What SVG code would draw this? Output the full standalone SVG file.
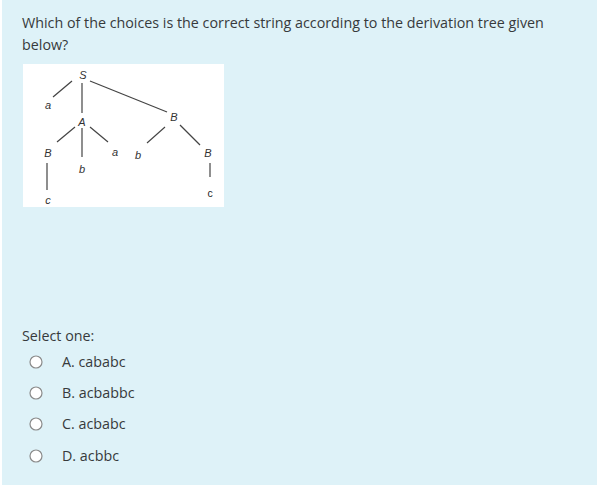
<svg xmlns="http://www.w3.org/2000/svg" width="597" height="485" viewBox="0 0 597 485">
<style>
.q{font-family:"Open Sans","Liberation Sans",sans-serif;font-size:14.3px;fill:#373a3c}
.t{font-family:"Liberation Sans",Arial,sans-serif;font-size:11px;font-style:italic;fill:#333;text-anchor:middle}
.tu{font-family:"Liberation Sans",Arial,sans-serif;font-size:10.5px;fill:#222;text-anchor:middle}
.e line{stroke:#444;stroke-width:1.2}
.r{fill:#fff;stroke:#8a8a8a;stroke-width:1.2}
</style>
<rect x="0" y="0" width="597" height="485" fill="#fff"/>
<rect x="2" y="0" width="595" height="485" fill="#def2f8"/>
<text class="q" x="22" y="28">Which of the choices is the correct string according to the derivation tree given</text>
<text class="q" x="22" y="50">below?</text>
<rect x="23" y="64" width="201" height="143" fill="#fff"/>
<g id="edges" class="e">
<line x1="72" y1="81" x2="53" y2="97"/>
<line x1="82" y1="83" x2="82" y2="113"/>
<line x1="90" y1="81" x2="167" y2="112"/>
<line x1="75" y1="127" x2="57" y2="142"/>
<line x1="82" y1="128" x2="82" y2="157"/>
<line x1="90" y1="127" x2="108" y2="142"/>
<line x1="165" y1="127" x2="147" y2="143"/>
<line x1="180" y1="125" x2="200" y2="145"/>
<line x1="47" y1="163" x2="47" y2="190"/>
<line x1="210" y1="163" x2="210" y2="177"/>
</g>
<g id="S"><text class="t" x="83" y="79">S</text></g>
<g id="a1"><text class="t" x="48" y="109">a</text></g>
<g id="A"><text class="t" x="82" y="126">A</text></g>
<g id="B1"><text class="t" x="174" y="121">B</text></g>
<g id="B2"><text class="t" x="48" y="157">B</text></g>
<g id="b1"><text class="t" x="82" y="173">b</text></g>
<g id="a2"><text class="t" x="115" y="156">a</text></g>
<g id="b2"><text class="t" x="138" y="159">b</text></g>
<g id="B3"><text class="t" x="208" y="157">B</text></g>
<g id="c1"><text class="t" x="48" y="204">c</text></g>
<g id="c2"><text class="tu" x="210" y="197">c</text></g>
<text class="q" x="22" y="341">Select one:</text>
<circle class="r" cx="36" cy="362" r="6"/>
<text class="q" x="62" y="367">A. cababc</text>
<circle class="r" cx="36" cy="393" r="6"/>
<text class="q" x="62" y="398">B. acbabbc</text>
<circle class="r" cx="36" cy="424" r="6"/>
<text class="q" x="62" y="429">C. acbabc</text>
<circle class="r" cx="36" cy="456" r="6"/>
<text class="q" x="62" y="461">D. acbbc</text>
</svg>
